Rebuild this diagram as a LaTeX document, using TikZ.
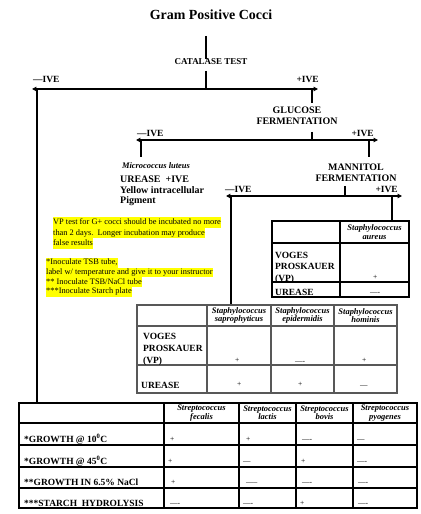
\documentclass[tikz,border=0pt]{standalone}
\usepackage{fontspec}
\setmainfont{Liberation Serif}
\usetikzlibrary{arrows.meta,calc,positioning}
\definecolor{Ink}{HTML}{000000}
\definecolor{Grid}{HTML}{585858}
\definecolor{Marker}{HTML}{FFFF00}
\newcommand{\hlline}[1]{{\setlength{\fboxsep}{0pt}\colorbox{Marker}{\strut #1}}}
\tikzset{
  split/.style={{Triangle[length=4.5pt,width=4.5pt]}-{Triangle[length=4.5pt,width=4.5pt]}, line width=1.6pt, draw=Ink},
  drop/.style={line width=1.6pt, draw=Ink},
  testname/.style={font=\fontsize{10}{11}\selectfont\bfseries, inner sep=0pt, align=center, anchor=north},
  sign/.style={font=\fontsize{9.5}{11}\selectfont\bfseries, inner sep=0pt, anchor=base west},
  species/.style={font=\fontsize{8.5}{8.5}\selectfont\bfseries\itshape, inner sep=0pt, align=center},
  finding/.style={font=\fontsize{10}{11}\selectfont\bfseries, inner sep=0pt, anchor=base west, align=left},
  rowname/.style={font=\fontsize{9.5}{11.5}\selectfont\bfseries, inner sep=0pt, anchor=base west, align=left},
  result/.style={font=\fontsize{7.5}{9}\selectfont, inner sep=0pt, anchor=base west},
  note/.style={inner sep=0pt, anchor=base west, align=left},
  grid/.style={line width=1.1pt, draw=Ink},
  greygrid/.style={line width=1.5pt, draw=Grid}
}

\begin{document}
\begin{tikzpicture}[x=1bp,y=-1bp]
  \fill[white] (0,0) rectangle (420,514);
  \useasboundingbox (0,0) rectangle (420,514);

  % catalase
  \node[font=\fontsize{14}{16}\selectfont\bfseries, inner sep=0pt, anchor=base] (title) at (211,20) {Gram Positive Cocci};
  \node[font=\fontsize{9}{11}\selectfont\bfseries, inner sep=0pt, anchor=base] (catalase) at (211,65) {CATALASE TEST};
  \coordinate (catTop) at (206,36);
  \coordinate (catOut) at (206,71);
  \coordinate (catJoin) at (206,89);
  \coordinate (catNeg) at (32,89);
  \coordinate (catPos) at (318,89);
  \draw[drop] (catTop) -- (catTop |- catalase.north);
  \draw[drop] (catOut) -- (catJoin);
  \draw[split] (catNeg) -- (catPos);
  \node[sign] (catNegLbl) at (33,83) {---IVE};
  \node[sign, anchor=base east] (catPosLbl) at (319,83) {+IVE};

  % glucose
  \coordinate (gluStem) at (312,89);
  \coordinate (gluIn) at (312,103);
  \node[testname] (glucose) at (297,106.5) {GLUCOSE\\FERMENTATION};
  \draw[drop] (gluStem) -- (gluIn);
  \coordinate (gluOut) at (312,132);
  \coordinate (gluJoin) at (312,140);
  \coordinate (gluNeg) at (136,140);
  \coordinate (gluPos) at (378,140);
  \draw[drop] (gluOut) -- (gluJoin);
  \draw[split] (gluNeg) -- (gluPos);
  \node[sign] (gluNegLbl) at (137,137) {---IVE};
  \node[sign, anchor=base east] (gluPosLbl) at (374,137) {+IVE};

  % micrococcus
  \coordinate (microStem) at (141,140);
  \coordinate (microIn) at (141,157);
  \draw[drop] (microStem) -- (microIn);
  \node[species, anchor=base] (micro) at (156,169) {Micrococcus luteus};
  \node[finding] (microNotes) at (120,204) {UREASE\ \ +IVE\\Yellow intracellular\\Pigment};

  % mannitol
  \coordinate (manStem) at (369,140);
  \coordinate (manIn) at (369,157);
  \draw[drop] (manStem) -- (manIn);
  \node[testname] (mannitol) at (356,163.5) {MANNITOL\\FERMENTATION};
  \coordinate (manOut) at (345,186);
  \coordinate (manJoin) at (345,196);
  \coordinate (manNeg) at (226,196);
  \coordinate (manPos) at (402,196);
  \draw[drop] (manOut) -- (manJoin);
  \draw[split] (manNeg) -- (manPos);
  \node[sign] (manNegLbl) at (225,193) {---IVE};
  \node[sign, anchor=base east] (manPosLbl) at (398,193) {+IVE};

  % drops to tables
  \coordinate (strepStem) at (37,89);
  \coordinate (strepTop) at (37,403);
  \draw[drop] (strepStem) -- (strepTop);
  \coordinate (aurStem) at (392,196);
  \coordinate (aurTop) at (392,221);
  \draw[line width=2.6pt, draw=Ink] (aurStem) -- (aurTop);
  \coordinate (sapStem) at (231,196);
  \coordinate (sapTop) at (231,305);
  \draw[drop] (sapStem) -- (sapTop);

  % notes
  \node[note, font=\fontsize{8.4}{10.5}\selectfont] (vpnote) at (53,245.5)
    {\hlline{VP test for G+ cocci should be incubated no more}\\\hlline{than 2 days.\ \ Longer incubation may produce}\\\hlline{false results}};
  \node[note, font=\fontsize{8.4}{9.8}\selectfont] (inocnote) at (46,293.9)
    {\hlline{*Inoculate TSB tube,}\\\hlline{label w/ temperature and give it to your instructor}\\\hlline{** Inoculate TSB/NaCl tube}\\\hlline{***Inoculate Starch plate}};

  % S. aureus table
  \draw[grid] (272,221) rectangle (409,297);
  \draw[grid] (340,221) -- (340,297);
  \foreach \y in {243,282} \draw[grid] (272,\y) -- (409,\y);
  \node[species] (aureus) at (374.5,232) {Staphylococcus\\aureus};
  \node[rowname] (aurVP) at (275,281) {VOGES\\PROSKAUER\\(VP)};
  \node[rowname] (aurUrease) at (275,295) {UREASE};
  \node[result] (aurVPval) at (373,279) {+};
  \node[result] (aurUreaseVal) at (370,294) {----};

  % coagulase negative staph table
  \draw[greygrid] (137,305) rectangle (397,393);
  \foreach \x in {207,271,334} \draw[greygrid] (\x,305) -- (\x,393);
  \foreach \y in {326,365} \draw[greygrid] (137,\y) -- (397,\y);
  \foreach \x/\sp in {239/saprophyticus,302.5/epidermidis,365.5/hominis}
    \node[species] (staph-\sp) at (\x,315.5) {Staphylococcus\\\sp};
  \node[rowname, font=\fontsize{9.5}{12}\selectfont\bfseries] (staphVP) at (143,363) {VOGES\\PROSKAUER\\(VP)};
  \node[rowname] (staphUrease) at (141,388) {UREASE};
  \foreach \x/\y/\v [count=\i] in {235/362/+,295/363/----,362/362/+,237/386/+,298/386/+,360/387/---}
    \node[result] (staph-res\i) at (\x,\y) {\v};

  % streptococcus table
  \draw[grid] (19,403) rectangle (417,508);
  \foreach \x in {164,239,296,353} \draw[grid] (\x,403) -- (\x,508);
  \foreach \y in {423,445,467,488} \draw[grid] (19,\y) -- (417,\y);
  \foreach \x/\sp in {201.5/fecalis,267.5/lactis,324.5/bovis,385/pyogenes}
    \node[species] (strep-\sp) at (\x,413) {Streptococcus\\\sp};
  \node[rowname] (growth10) at (24,442) {*GROWTH @ 10\textsuperscript{0}C};
  \node[rowname] (growth45) at (24,464) {*GROWTH @ 45\textsuperscript{0}C};
  \node[rowname] (growthNaCl) at (24,485) {**GROWTH IN 6.5\% NaCl};
  \node[rowname] (starch) at (24,506) {***STARCH\ \ HYDROLYSIS};
  \foreach \x/\y/\v [count=\i] in {170/441/+,246/441/+,302/441/----,357/441/---,
                                   168/463/+,243/463/---,301/463/+,357/463/----,
                                   171/484/+,246/484/-----,302/484/----,358/484/----,
                                   170/505/----,243/505/----,300/505/+,358/505/----}
    \node[result] (strep-res\i) at (\x,\y) {\v};
\end{tikzpicture}
\end{document}
